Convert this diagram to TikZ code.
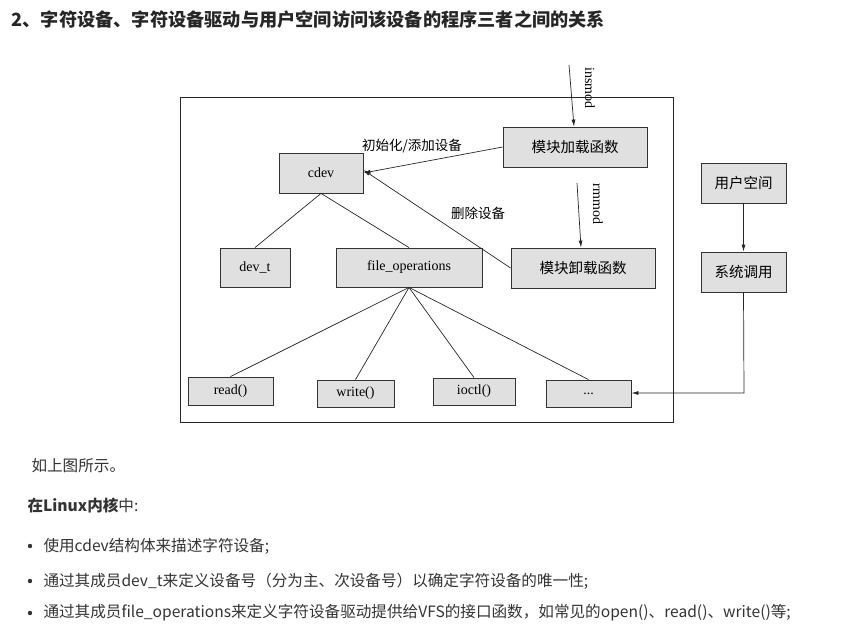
\documentclass[tikz,border=0pt]{standalone}
\usepackage{fontspec}
\setmainfont{Liberation Serif}
\newfontfamily\cjk{Noto Sans CJK SC}
\usetikzlibrary{arrows.meta}
\begin{document}
\begin{tikzpicture}[x=1pt,y=-1pt,
  bx/.style={draw=black!80,fill=black!12,line width=0.8pt,inner sep=0pt},
  ln/.style={draw=black!85,line width=0.7pt},
  ar/.style={ln,-{Latex[length=7pt,width=4pt]}},
  lab/.style={font=\cjk\fontsize{13.5}{15}\selectfont},
  body/.style={font=\cjk\fontsize{15.6}{18}\selectfont,anchor=west,text=black!80}]
\useasboundingbox (0,0) rectangle (867,642);
\node[anchor=west,font=\cjk\bfseries\fontsize{18.2}{20}\selectfont,text=black!85] (title) at (8,20) {2、字符设备、字符设备驱动与用户空间访问该设备的程序三者之间的关系};
\draw[ln] (180,97) rectangle (673,422);
\newcommand\bxat[6]{\node[bx,minimum width=#4-#2,minimum height=#5-#3] (#1) at ({(#2+#4)/2},{(#3+#5)/2}) {#6};}
\bxat{load}{503}{127}{647}{167}{\cjk\fontsize{14.5}{16}\selectfont 模块加载函数}
\bxat{cdev}{279}{153}{363}{193}{\fontsize{14}{16}\selectfont cdev}
\bxat{unload}{511}{248}{655}{288}{\cjk\fontsize{14.5}{16}\selectfont 模块卸载函数}
\bxat{devt}{220}{248}{290}{287}{\fontsize{14}{16}\selectfont dev\_t}
\bxat{fops}{336}{248}{482}{287}{\fontsize{14}{16}\selectfont file\_operations}
\bxat{read}{188}{377}{273}{405}{\fontsize{14}{16}\selectfont read()}
\bxat{write}{317}{380}{394}{407}{\fontsize{14}{16}\selectfont write()}
\bxat{ioctl}{433}{378}{515}{405}{\fontsize{14}{16}\selectfont ioctl()}
\bxat{dots}{546}{380}{631}{407}{\fontsize{14}{16}\selectfont ...}
\bxat{user}{701}{163}{786}{203}{\cjk\fontsize{14.5}{16}\selectfont 用户空间}
\bxat{sys}{701}{252}{786}{292}{\cjk\fontsize{14.5}{16}\selectfont 系统调用}
\coordinate (ins) at (569,65);
\coordinate (rm) at (577,183);
\draw[ar] (ins) -- (load.north west -| 574,0);
\node[rotate=-90,font=\fontsize{14}{16}\selectfont] (insl) at (590,88) {insmod};
\draw[ar] (rm) -- (unload.north west -| 581,0);
\node[rotate=-90,font=\fontsize{14}{16}\selectfont] (rml) at (598,204) {rmmod};
\draw[ar] (load.west) -- (cdev.east);
\node[lab] (l1) at (412,146) {初始化/添加设备};
\draw[ar] (unload.west) -- ([yshift=3pt]cdev.east);
\node[lab] (l2) at (478,213) {删除设备};
\draw[ln] (cdev.south) -- (devt.north);
\draw[ln] (cdev.south) -- (fops.north);
\draw[ln] (fops.south) -- (read.north);
\draw[ln] (fops.south) -- (write.north);
\draw[ln] (fops.south) -- (ioctl.north);
\draw[ln] (fops.south) -- (dots.north);
\draw[ar] (user) -- (sys);
\coordinate (c1) at (744,393);
\draw[ar] (sys.south) -- (c1) -- (dots.east |- c1);
\node[body] (t1) at (28,466) {如上图所示。};
\node[body] (t2) at (24,505) {\bfseries 在Linux内核\mdseries 中:};
\foreach \y/\t in {546/使用cdev结构体来描述字符设备;,
  581/通过其成员dev\_t来定义设备号（分为主、次设备号）以确定字符设备的唯一性;,
  613/通过其成员file\_operations来定义字符设备驱动提供给VFS的接口函数，如常见的open()、read()、write()等;}{
  \node[body] at (40,\y) {\t};
  \fill[black!80] (30,\y) circle (2.2);
}
\end{tikzpicture}
\end{document}
